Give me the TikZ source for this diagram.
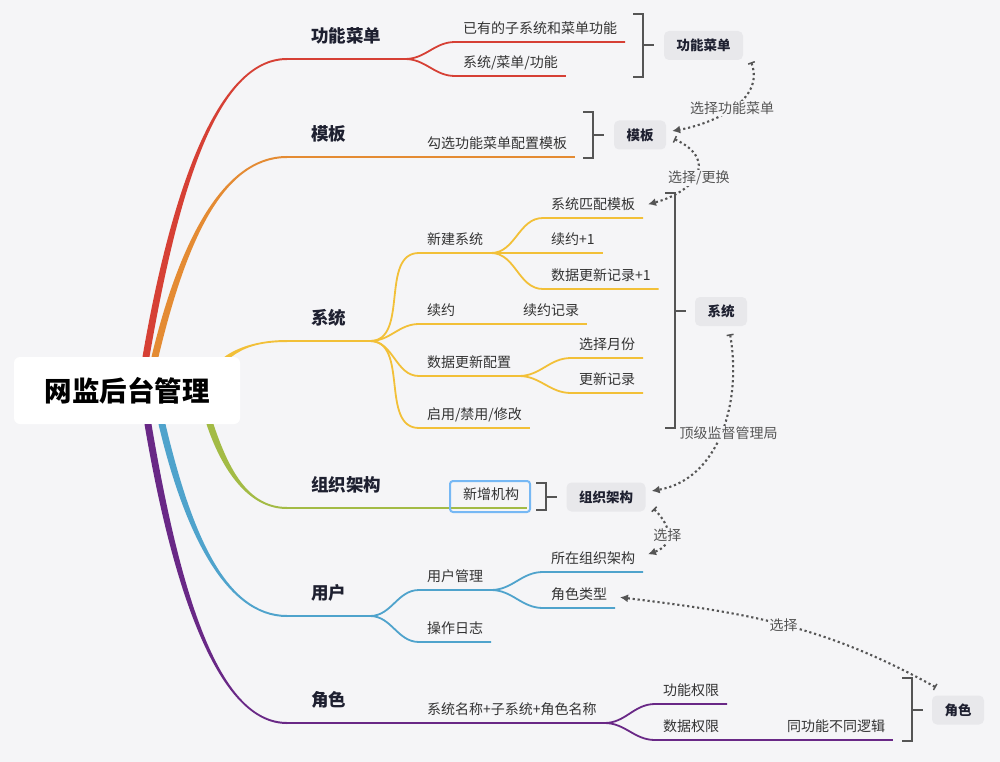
\documentclass[tikz,border=0pt]{standalone}
\usepackage{fontspec}
\setmainfont{Noto Sans CJK SC}
\usepackage{tikz}
\usetikzlibrary{arrows.meta,calc}
\definecolor{bgcol}{RGB}{245,245,247}
\definecolor{cred}{RGB}{214,64,53}
\definecolor{corange}{RGB}{228,139,51}
\definecolor{cyellow}{RGB}{242,192,56}
\definecolor{cgreen}{RGB}{163,187,69}
\definecolor{cblue}{RGB}{79,163,204}
\definecolor{cpurple}{RGB}{105,40,134}
\definecolor{txtdark}{RGB}{30,32,48}
\definecolor{txtsub}{RGB}{51,51,51}
\definecolor{brk}{RGB}{85,85,85}
\definecolor{sumfill}{RGB}{232,232,235}
\definecolor{selblue}{RGB}{118,184,244}
\tikzset{
  rootbox/.style ={rectangle, rounded corners=6pt, fill=white, minimum width=226pt, minimum height=67pt,
                font=\fontsize{27.5}{30}\selectfont\bfseries, text=black},
  topic/.style ={anchor=south west, inner xsep=24pt, inner ysep=16.35pt, outer sep=0pt, text height=12pt,
                text depth=0pt, font=\fontsize{17.5}{20}\selectfont\bfseries, text=txtdark},
  leaf/.style ={anchor=south west, inner xsep=8pt, inner ysep=8.7pt, outer sep=0pt, text height=10pt,
                text depth=0pt, font=\fontsize{14}{16}\selectfont, text=txtsub},
  sumbox/.style ={rectangle, rounded corners=5pt, fill=sumfill, minimum height=29pt, inner xsep=12.5pt,
                font=\fontsize{13.5}{16}\selectfont\bfseries, text=txtdark},
  twig/.style ={line width=1.8pt},
  brace/.style ={draw=brk, line width=2pt},
  selbox/.style ={draw=selblue, line width=2pt, rounded corners=3pt},
  rel/.style ={draw=brk, line width=2.1pt, dash pattern=on 2.2pt off 2.8pt,
                {Bar[width=7pt,line width=1.5pt]}-{Latex[length=8pt,width=8pt]}},
  rellabel/.style ={fill=bgcol, inner sep=1pt, font=\fontsize{14}{16}\selectfont, text=brk},
}
\newcommand{\trunk}[4]{%
  \fill[#1] let \p1=(#2), \p2=(#3) in
    (\x1-3.5pt,\y1) .. controls ({\x1-3.5pt+0.2*(\x2-\x1)},{\y1+0.55*(\y2-\y1)}) and ({\x1+0.5*(\x2-\x1)},{\y2+(#4)}) .. (\x2,{\y2+(#4)})
    -- (\x2,{\y2-(#4)}) .. controls ({\x1+0.5*(\x2-\x1)},{\y2-(#4)}) and ({\x1+3.5pt+0.2*(\x2-\x1)},{\y1+0.55*(\y2-\y1)}) .. (\x1+3.5pt,\y1) -- cycle;}

\begin{document}
\begin{tikzpicture}[x=1pt,y=-1pt]
\fill[bgcol] (0,0) rectangle (1000,762);
\useasboundingbox (0,0) rectangle (1000,762);
\node[rootbox] (root) at (127,390.5) {网监后台管理};

\node[topic] (gn) at (287,59) {功能菜单};
\node[topic] (mb) at (287,157) {模板};
\node[topic] (xt) at (287,341) {系统};
\node[topic] (zz) at (287,508) {组织架构};
\node[topic] (yh) at (287,616) {用户};
\node[topic] (js) at (287,723) {角色};

\node[leaf] (a1) at (455,42) {已有的子系统和菜单功能};
\node[leaf] (a2) at (455,76) {系统/菜单/功能};
\node[leaf] (b1) at (419,157) {勾选功能菜单配置模板};
\node[leaf] (c1) at (419,253) {新建系统};
\node[leaf] (c11) at (543,218) {系统匹配模板};
\node[leaf] (c12) at (543,253) {续约+1};
\node[leaf] (c13) at (543,289) {数据更新记录+1};
\node[leaf] (c2) at (419,324) {续约};
\node[leaf] (c21) at (515,324) {续约记录};
\node[leaf] (c3) at (419,376) {数据更新配置};
\node[leaf] (c31) at (571,358) {选择月份};
\node[leaf] (c32) at (571,393) {更新记录};
\node[leaf] (c4) at (419,428) {启用/禁用/修改};
\node[leaf] (d1) at (455,508) {新增机构};
\node[leaf] (e1) at (419,590) {用户管理};
\node[leaf] (e11) at (543,572) {所在组织架构};
\node[leaf] (e12) at (543,608) {角色类型};
\node[leaf] (e2) at (419,642) {操作日志};
\node[leaf] (f0) at (419,723) {系统名称+子系统+角色名称};
\node[leaf] (f1) at (655,704) {功能权限};
\node[leaf] (f2) at (655,740) {数据权限};
\node[leaf] (f21) at (779,740) {同功能不同逻辑};

\trunk{cred}{[xshift=19pt]root.north}{gn.south west}{1pt}
\trunk{corange}{[xshift=28pt]root.north}{mb.south west}{1pt}
\trunk{cyellow}{[xshift=101pt]root.north}{xt.south west}{1pt}
\trunk{cgreen}{[xshift=83pt]root.south}{zz.south west}{-1pt}
\trunk{cblue}{[xshift=35pt]root.south}{yh.south west}{-1pt}
\trunk{cpurple}{[xshift=21pt]root.south}{js.south west}{-1pt}

\foreach \t/\col in {gn/cred,mb/corange,xt/cyellow,zz/cgreen,yh/cblue,js/cpurple}
  \draw[twig,\col] (\t.south west) -- (\t.south east);
\foreach \p/\c/\col in {gn/a1/cred,gn/a2/cred,mb/b1/corange,
    xt/c1/cyellow,c1/c11/cyellow,c1/c12/cyellow,c1/c13/cyellow,xt/c2/cyellow,c2/c21/cyellow,
    xt/c3/cyellow,c3/c31/cyellow,c3/c32/cyellow,xt/c4/cyellow,zz/d1/cgreen,
    yh/e1/cblue,e1/e11/cblue,e1/e12/cblue,yh/e2/cblue,
    js/f0/cpurple,f0/f1/cpurple,f0/f2/cpurple,f2/f21/cpurple}
  \draw[twig,\col] (\p.south east) to[out=0,in=180] (\c.south west) -- (\c.south east);

\draw[selbox] ([xshift=-5pt,yshift=-4pt]d1.south west) rectangle ([xshift=3pt,yshift=27pt]d1.south east);

\foreach \bx/\ya/\yb/\ym in {643/14/77/45,593/112/158/135,675/193/428/311,546/483/510/497,912/678/741/710}
  \draw[brace] (\bx-10,\ya) -- (\bx,\ya) -- (\bx,\yb) -- (\bx-10,\yb) (\bx,\ym) -- (\bx+11,\ym);

\node[sumbox] (s1) at (703.5,45.5) {功能菜单};
\node[sumbox] (s2) at (640,135) {模板};
\node[sumbox] (s3) at (721,311.5) {系统};
\node[sumbox] (s4) at (606,497) {组织架构};
\node[sumbox] (s5) at (958,710) {角色};

\draw[rel] ([xshift=8pt,yshift=-2pt]s1.south east) to[out=-70,in=10] node[rellabel] {选择功能菜单} ([xshift=6pt,yshift=4pt]s2.east);
\draw[rel] ([xshift=8pt,yshift=-4pt]s2.east) to[out=-25,in=15,looseness=1.8] node[rellabel,xshift=3pt,yshift=-3pt] {选择/更换} ([xshift=5pt]c11.east);
\draw[rel] ([xshift=9pt,yshift=-8pt]s3.south) to[out=-80,in=10] node[rellabel,xshift=8pt] {顶级监督管理局} ([xshift=6pt,yshift=6pt]s4.east);
\draw[rel] ([xshift=8pt,yshift=3pt]s4.south east) to[out=-45,in=20,looseness=1.5] node[rellabel] {选择} ([xshift=5pt,yshift=4pt]e11.east);
\draw[rel] ([xshift=4pt,yshift=8pt]s5.north west) to[out=151,in=-7] node[rellabel] {选择} ([xshift=5pt,yshift=-3pt]e12.east);
\end{tikzpicture}
\end{document}
